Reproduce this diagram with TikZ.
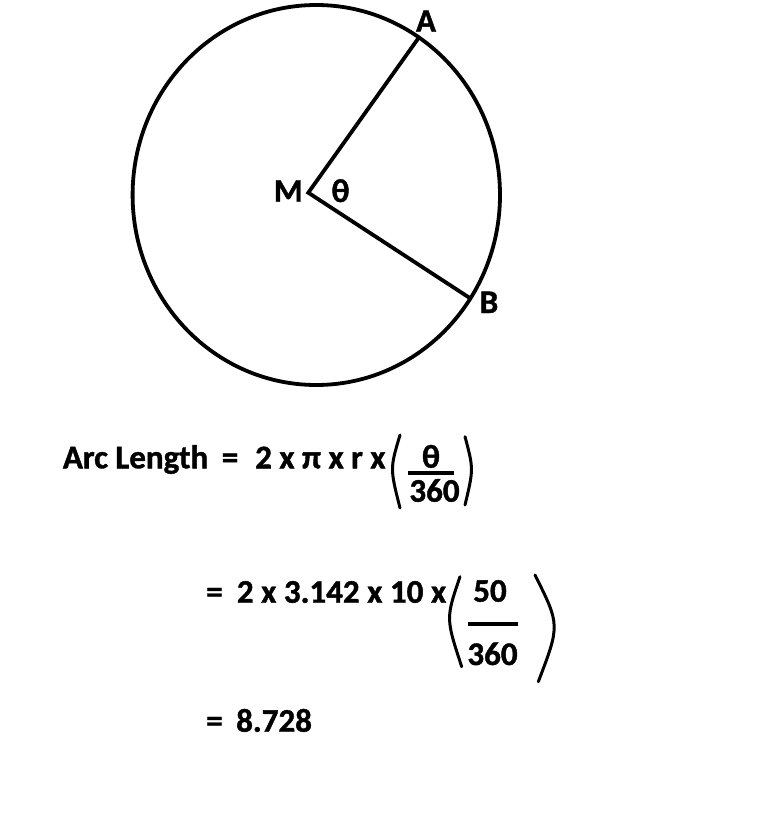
\documentclass[tikz,border=0pt]{standalone}
\usepackage{fontspec}
\setmainfont{Carlito}[BoldFeatures={FakeBold=1.2}]
\usepackage{tikz}
\usetikzlibrary{positioning, calc}
\newcommand{\widespaces}{\spaceskip=0.23em plus 0em minus 0em\relax}

\begin{document}
\begin{tikzpicture}[x=1pt, y=-1pt,
    lbl/.style={font=\fontsize{33}{38}\selectfont\bfseries, inner sep=0pt, anchor=base},
    txt/.style={lbl, anchor=base west},
    radius/.style={line width=3.8pt},
    bar/.style={line width=3.8pt},
    paren/.style={line width=3pt, line cap=round}
]
\useasboundingbox (0,0) rectangle (768,816);

\coordinate (M) at (308.3,192.7);
\coordinate (A) at (418.3,38.3);
\coordinate (B) at (469.3,297.7);

\draw[radius] (316.3,195) ellipse (183.7 and 190);
\draw[radius, line join=miter] (A) -- (M) -- (B);

\node[lbl] (labA) at (426,31.7) {A};
\node[lbl] (labB) at (489,313) {B};
\node[lbl] (labM) at (288.3,201.7) {M};
\node[lbl] (theta) at (340.5,202) {θ};

% formula
\node[txt] (arc) at (62.7,468.3) {Arc Length};
\node[txt] (eq1) at (221.7,468.3) {=};
\node[txt] (form) at (255,468.3) {2 x π x r x};
\node[lbl] (num1) at (431,467.7) {θ};
\node[lbl] (den1) at (434.5,501.7) {360};
\draw[bar] (408,472.7) -- (454,472.7);
\draw[paren] (400,435) .. controls (390,468.5) .. (400,508);
\draw[paren] (465,436.7) .. controls (473.6,469) .. (465,505);

\node[txt] (eq2) at (206,602.7) {=};
\node[txt] (vals) at (236.7,602.7) {\widespaces 2 x 3.142 x 10 x};
\node[lbl] (num2) at (490,601.7) {50};
\node[lbl] (den2) at (492.5,665) {360};
\draw[bar] (468.3,624) -- (518.3,624);
\draw[paren] (460,576.7) .. controls (445.8,618.3) .. (461.7,666.7);
\draw[paren] (535,575) .. controls (560,625) .. (538.3,681.7);

\node[txt] (eq3) at (206,731.7) {=};
\node[txt] (res) at (236,731.7) {8.728};

\end{tikzpicture}
\end{document}
